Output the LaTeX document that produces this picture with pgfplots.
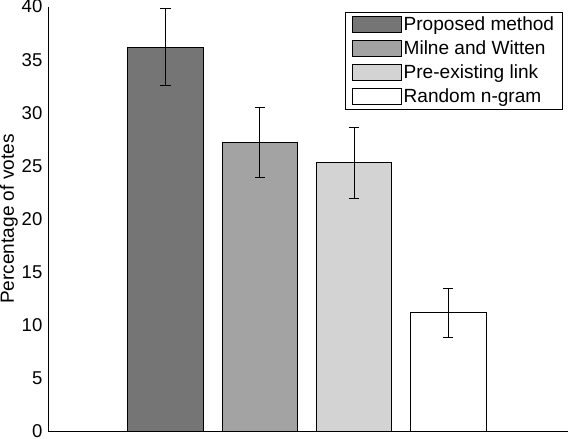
\documentclass[border=0pt]{standalone}
\usepackage{pgfplots}
\pgfplotsset{compat=1.18}
\usepackage{fontspec}
\setmainfont{Liberation Sans}
\definecolor{c1}{RGB}{117,117,117}
\definecolor{c2}{RGB}{163,163,163}
\definecolor{c3}{RGB}{211,211,211}
\begin{document}
\begin{tikzpicture}
\begin{axis}[
  scale only axis, width=516bp, height=422bp,
  xmin=-0.245, xmax=5.265, ymin=0, ymax=40,
  axis x line*=bottom, axis y line*=left,
  axis line style={line width=0.7pt},
  xtick=\empty, ytick={0,5,...,40},
  major tick length=0pt,
  ylabel={Percentage of votes},
  ylabel style={at={(axis description cs:-0.058,0.5)}, anchor=south, inner sep=0pt,
    font=\fontsize{19}{22}\selectfont},
  tick label style={font=\fontsize{18.5}{21}\selectfont},
  yticklabel style={inner sep=0pt, xshift=-5.5bp},
  /pgf/number format/assume math mode=true,
  ybar, bar width=0.8,
  legend cell align=left,
  legend style={at={(rel axis cs:0.99,0.988)}, anchor=north east, draw=black, line width=0.6pt,
    font=\fontsize{19}{22}\selectfont, row sep=4.5bp, inner xsep=6bp, inner ysep=3bp},
  legend image code/.code={\draw[#1, draw=black, line width=0.6pt] (0bp,-8bp) rectangle (49bp,8bp);},
  error bars/y dir=both, error bars/y explicit,
  error bars/error mark=-,
  error bars/error bar style={black, line width=0.8pt},
  error bars/error mark options={rotate=90, black, mark size=5bp, line width=0.8pt},
]
\addplot[fill=c1, draw=black, line width=0.6pt, bar shift=0pt] coordinates {(1,36.2) +- (0,3.65)};
\addplot[fill=c2, draw=black, line width=0.6pt, bar shift=0pt] coordinates {(2,27.25) +- (0,3.3)};
\addplot[fill=c3, draw=black, line width=0.6pt, bar shift=0pt] coordinates {(3,25.3) +- (0,3.32)};
\addplot[fill=white, draw=black, line width=0.6pt, bar shift=0pt] coordinates {(4,11.18) +- (0,2.28)};
\legend{Proposed method, Milne and Witten, Pre{-}existing link, Random n{-}gram}
\end{axis}
\end{tikzpicture}
\end{document}
